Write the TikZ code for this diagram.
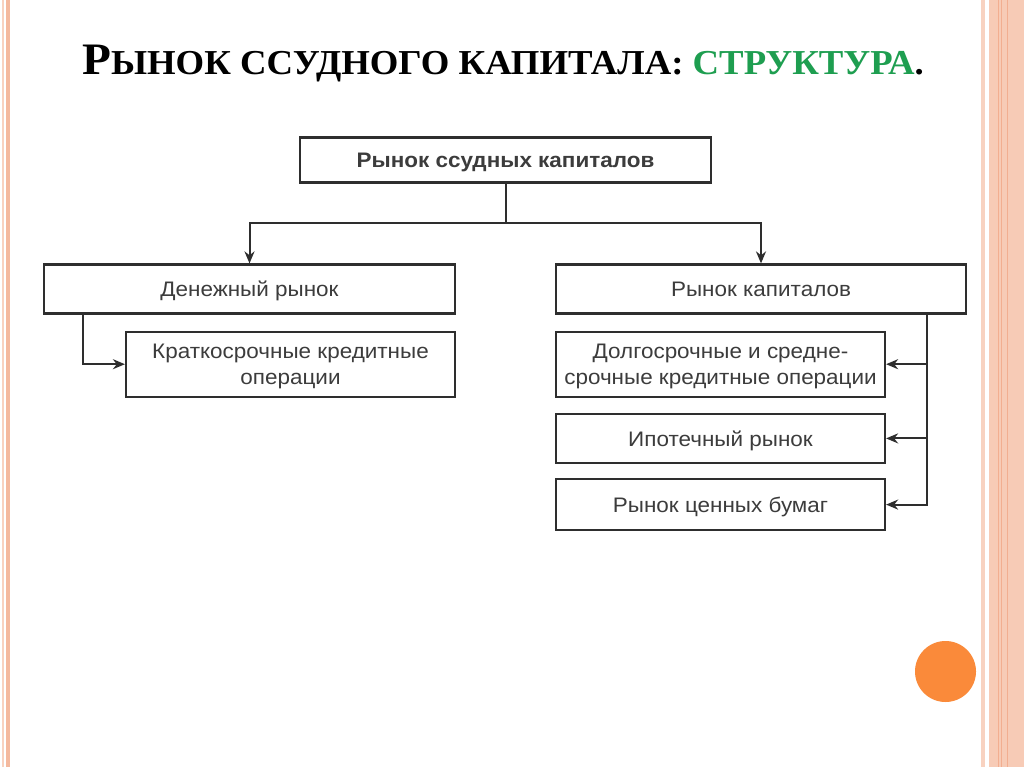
\documentclass[tikz,border=0pt]{standalone}
\usepackage{fontspec}
\setmainfont{Liberation Sans}[FakeStretch=1.07]
\newfontfamily\titlefont{Liberation Serif}[FakeStretch=1.05]
\usetikzlibrary{arrows,arrows.meta,positioning}

\definecolor{linegray}{HTML}{2E2E2E}
\definecolor{textgray}{HTML}{3C3C3C}
\definecolor{titlegreen}{HTML}{1E9E50}
\definecolor{peach}{HTML}{F8D2C0}
\definecolor{peachdark}{HTML}{F2AE90}
\definecolor{dotorange}{HTML}{FA8A3A}

\begin{document}
\begin{tikzpicture}
[x=1pt,y=-1pt,
 block/.style={draw=linegray,line width=2.2pt,text=textgray,align=center,inner sep=0pt,
   text depth=0pt,font=\fontsize{21}{26}\selectfont},
 wide block/.style={block,minimum width=411pt,minimum height=49pt},
 sub block/.style={block,minimum width=329pt},
 link/.style={draw=linegray,line width=2pt},
 tip/.style={link,-{Stealth[length=12pt,width=10pt]}}]

  % frame of the slide
  \useasboundingbox (0,0) rectangle (1024,767);
  \fill[white] (0,0) rectangle (1024,767);
  \fill[peach] (2,0) rectangle (4,767);
  \fill[peachdark!70!peach] (6,0) rectangle (10,767);
  \fill[peach] (981,0) rectangle (985,767);
  \fill[peach!80!peachdark] (989,0) rectangle (1024,767);
  \foreach \x in {998,1001,1007}
    \fill[peachdark] (\x,0) rectangle ++(1,767);
  \fill[dotorange] (945.5,671.5) circle (30.5pt);

  % title
  \node[anchor=base west,inner sep=0pt] (title) at (82,75)
    {\titlefont\bfseries\fontsize{45}{45}\selectfont Р\fontsize{35}{35}\selectfont ЫНОК ССУДНОГО КАПИТАЛА: \textcolor{titlegreen}{СТРУКТУРА}.};

  % boxes
  \node[wide block,minimum height=45pt,font=\fontsize{21}{26}\selectfont\bfseries] (loan) at (505.5,160) {Рынок ссудных капиталов};
  \node[wide block] (money) at (249.5,289) {Денежный рынок};
  \node[wide block,minimum width=410pt] (capital) at (761,289) {Рынок капиталов};
  \node[sub block,minimum height=65pt,below=16pt of money.south east,anchor=north east] (shortops) {Краткосрочные кредитные\\операции};
  \node[sub block,minimum height=65pt,below=16pt of capital.south west,anchor=north west] (longops) {Долгосрочные и средне-\\срочные кредитные операции};
  \node[sub block,minimum height=49pt,below=15pt of longops] (mortgage) {Ипотечный рынок};
  \node[sub block,minimum height=51pt,below=14pt of mortgage] (securities) {Рынок ценных бумаг};

  % connectors
  \coordinate (fork) at (505.5,223);
  \coordinate (leftfoot) at ([xshift=40pt]money.south west);
  \coordinate (trunk) at ([xshift=-40pt]capital.south east);
  \path[link] (loan) -- (fork);
  \path[tip] (fork) -| (money);
  \path[tip] (fork) -| (capital);
  \path[tip] (leftfoot) |- (shortops);
  \path[tip] (trunk) |- (longops);
  \path[tip] (trunk) |- (mortgage);
  \path[tip] (trunk) |- (securities);

\end{tikzpicture}
\end{document}
